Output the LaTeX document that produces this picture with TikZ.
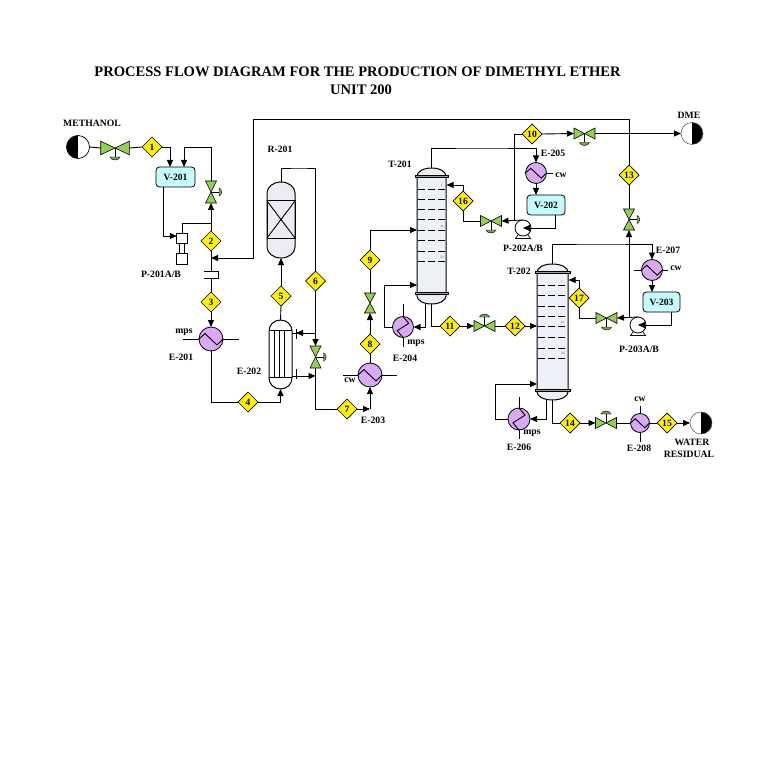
\documentclass[tikz,border=0pt]{standalone}
\usepackage{fontspec}
\setmainfont{Liberation Serif}
\usetikzlibrary{arrows.meta,shapes.geometric}
\definecolor{hxfill}{HTML}{D9A9F5}
\definecolor{valvefill}{HTML}{92D050}
\definecolor{capfill}{HTML}{6FA83C}
\definecolor{drumfill}{HTML}{C6FBFD}
\definecolor{colfill}{HTML}{EDF0F6}
\definecolor{bedfill}{HTML}{ECECF5}
\definecolor{flgfill}{HTML}{9A9A9A}
\tikzset{
 ln/.style={line width=0.9pt,draw=black,line join=miter},
 flow/.style={ln,-{Triangle[length=7pt,width=6pt]}},
 lab/.style={font=\fontsize{9.7}{10}\selectfont\bfseries,inner sep=0pt,outer sep=0pt},
 tiny/.style={font=\fontsize{3.4}{4}\selectfont,inner sep=0pt,text=black!70},
 stream/.style={diamond,aspect=1,draw=black,line width=0.7pt,fill=yellow,minimum size=20pt,inner sep=0pt,outer sep=0pt,font=\fontsize{9.6}{10}\selectfont\bfseries},
 hxn/.style={circle,draw=black,line width=0.8pt,fill=hxfill,inner sep=0pt,outer sep=0pt},
 drum/.style={rectangle,rounded corners=3.5pt,draw=black,line width=0.8pt,fill=drumfill,inner sep=0pt,outer sep=0pt,font=\fontsize{9.6}{10}\selectfont\bfseries},
 vnode/.style={rectangle,inner sep=0pt,outer sep=0pt},
 vesnode/.style={rectangle,inner sep=0pt,outer sep=0pt},
 vtri/.style={draw=black,line width=0.6pt,fill=valvefill,line join=miter},
 vcap/.style={draw=black,line width=0.4pt,fill=capfill},
 pumpn/.style={circle,draw=black,line width=0.8pt,fill=white,inner sep=0pt,outer sep=0pt,minimum size=16pt},
 pboxn/.style={rectangle,draw=black,line width=0.8pt,fill=white,inner sep=0pt,outer sep=0pt,minimum width=10.5pt,minimum height=10.5pt},
 srcl/.style={circle,draw=black,line width=0.7pt,fill=white,inner sep=0pt,outer sep=0pt,minimum size=23pt,
   path picture={\fill[black] (path picture bounding box.north) rectangle (path picture bounding box.south west);}},
 srcr/.style={circle,draw=black!70,line width=0.5pt,fill=white,inner sep=0pt,outer sep=0pt,minimum size=22pt,
   path picture={\fill[black] (path picture bounding box.north) rectangle (path picture bounding box.south east);}},
 tray/.style={line width=0.9pt,dash pattern=on 7pt off 3pt},
 flange/.style={draw=black,line width=0.4pt,fill=flgfill},
}
% horizontal valve: name x y halfwidth halfheight cap(1 down, -1 up)
\newcommand\hvalve[6]{%
 \pgfmathsetmacro\valw{2*#4}\pgfmathsetmacro\valh{2*#5}%
 \node[vnode,minimum width=\valw pt,minimum height=\valh pt] (#1) at (#2,#3) {};
 \begin{scope}[shift={(#2,#3)}]
  \draw[ln,line width=0.6pt] (0,0) -- (0,{#6*9});
  \draw[vcap] (-5,{#6*9}) .. controls (-4,{#6*13}) and (4,{#6*13}) .. (5,{#6*9}) -- cycle;
  \draw[vtri] (-#4,-#5) -- (0,0) -- (-#4,#5) -- cycle;
  \draw[vtri] (#4,-#5) -- (0,0) -- (#4,#5) -- cycle;
 \end{scope}}
% vertical valve: name x y halfwidth halfheight capflag
\newcommand\vvalve[6]{%
 \pgfmathsetmacro\valw{2*#4}\pgfmathsetmacro\valh{2*#5}%
 \node[vnode,minimum width=\valw pt,minimum height=\valh pt] (#1) at (#2,#3) {};
 \begin{scope}[shift={(#2,#3)}]
  \ifnum#6=1
  \draw[ln,line width=0.6pt] (0,0) -- (8,0);
  \draw[vcap] (8,-4) .. controls (11.5,-3) and (11.5,3) .. (8,4) -- cycle;
  \fi
  \draw[vtri] (-#4,-#5) -- (0,0) -- (#4,-#5) -- cycle;
  \draw[vtri] (-#4,#5) -- (0,0) -- (#4,#5) -- cycle;
 \end{scope}}
% heat exchanger, horizontal coil: name x y r
\newcommand\hxh[4]{%
 \pgfmathsetmacro\hxd{2*#4}%
 \node[hxn,minimum size=\hxd pt] (#1) at (#2,#3) {};
 \begin{scope}[shift={(#2,#3)}]
  \draw[ln] (-#4,0) -- ({-.5*#4},{-.45*#4}) -- ({.5*#4},{.5*#4}) -- (#4,0);
 \end{scope}}
\newcommand\hxv[4]{%
 \pgfmathsetmacro\hxd{2*#4}%
 \node[hxn,minimum size=\hxd pt] (#1) at (#2,#3) {};
 \begin{scope}[shift={(#2,#3)}]
  \draw[ln] (0,-#4) -- ({.55*#4},{-.35*#4}) -- ({-.55*#4},{.35*#4}) -- (0,#4);
 \end{scope}}
% pump: name x y
\newcommand\pumpsym[3]{%
 \node[pumpn] (#1) at (#2,#3) {};
 \begin{scope}[shift={(#2,#3)}]
  \draw[ln,line width=0.7pt] (-4.5,6.3) -- (-7.5,10.5) -- (7.5,10.5) -- (4.5,6.3);
 \end{scope}}
% vessel: name xl xr yt yb h fill
\newcommand\myvessel[7]{%
 \pgfmathsetmacro\vesw{#3-#2}\pgfmathsetmacro\vesh{#5-#4}%
 \pgfmathsetmacro\vesx{(#2+#3)/2}\pgfmathsetmacro\vesy{(#4+#5)/2}%
 \node[vesnode,minimum width=\vesw pt,minimum height=\vesh pt] (#1) at (\vesx,\vesy) {};
 \draw[ln,line width=1pt,fill=#7] (#2,{#4+#6}) .. controls (#2,{#4+.45*#6}) and ({#2+.22*\vesw},#4) .. (\vesx,#4)
   .. controls ({#3-.22*\vesw},#4) and (#3,{#4+.45*#6}) .. (#3,{#4+#6}) -- (#3,{#5-#6})
   .. controls (#3,{#5-.45*#6}) and ({#3-.22*\vesw},#5) .. (\vesx,#5)
   .. controls ({#2+.22*\vesw},#5) and (#2,{#5-.45*#6}) .. (#2,{#5-#6}) -- cycle;}
\begin{document}
\begin{tikzpicture}[x=1pt,y=-1pt]
\useasboundingbox[fill=white] (0,0) rectangle (768,762);
% ---- titles
\node[font=\fontsize{14.55}{15}\selectfont\bfseries,inner sep=0pt] (title1) at (357.5,72) {PROCESS FLOW DIAGRAM FOR THE PRODUCTION OF DIMETHYL ETHER};
\node[font=\fontsize{14.55}{15}\selectfont\bfseries,inner sep=0pt] (title2) at (361,90) {UNIT 200};
% ---- vessels
\myvessel{r201}{267}{295}{182}{258}{11}{bedfill}
\draw[ln,line width=1pt] (267,201) rectangle (295,238);
\draw[ln] (267,201) -- (295,238) (295,201) -- (267,238);
\myvessel{e202}{269}{292}{320}{389}{11}{white}
\draw[ln] (269,330) -- (292,330) (269,377) -- (292,377);
\foreach \tx in {274,279,284} \draw[ln,line width=0.7pt] (\tx,330) -- (\tx,377);
\draw[ln] (292,333) -- (296,333) (296,329) -- (296,339) (292,376) -- (296,376) (296,369) -- (296,379);
\myvessel{t201}{417}{446}{168}{304}{8}{colfill}
\draw[flange] (415,175) rectangle (448,177.5);
\draw[flange] (415,292) rectangle (448,294.5);
\foreach \ty in {189,199,209,219,230,240,251,261} \draw[tray] (418,\ty) -- (445,\ty);
\node[tiny] (tl1) at (442,185) {1};
\node[tiny] (tl2) at (442,226) {11};
\node[tiny] (tl3) at (442,257) {22};
\myvessel{t202}{537}{568}{264}{400}{8}{colfill}
\draw[flange] (535,271) rectangle (570,273.5);
\draw[flange] (535,389) rectangle (570,391.5);
\foreach \ty in {285,295,306,316,326,337,348,358} \draw[tray] (538,\ty) -- (567,\ty);
\node[tiny] (tm1) at (562,281) {1};
\node[tiny] (tm2) at (562,322) {14};
\node[tiny] (tm3) at (563,353) {26};
% ---- drums
\node[drum,minimum width=39pt,minimum height=20pt] (v201) at (175.5,177) {V-201};
\node[drum,minimum width=38pt,minimum height=20pt] (v202) at (546,205) {V-202};
\node[drum,minimum width=37pt,minimum height=20pt] (v203) at (661.5,302) {V-203};
% ---- exchangers
\hxh{e201}{211}{339}{12}
\hxh{e203}{370}{375}{12}
\hxv{e204}{403}{327}{10.5}
\hxh{e205}{536}{173}{10.5}
\hxv{e206}{519}{419}{11}
\hxh{e207}{652}{270}{10.5}
\hxh{e208}{640}{423}{9.5}
% ---- valves
\hvalve{v1}{115}{148}{14.3}{6.8}{1}
\vvalve{v2}{211}{192}{5.5}{11}{1}
\vvalve{v6}{315.5}{357}{5.5}{11}{1}
\vvalve{v8}{370}{303}{5.5}{10}{0}
\hvalve{v11}{484.5}{326}{10.5}{5.5}{-1}
\hvalve{v16}{491}{221}{10.5}{5.5}{1}
\hvalve{v10}{584.5}{133.5}{10.5}{5.5}{1}
\vvalve{v13}{629}{219.5}{5.5}{10.5}{1}
\hvalve{v17}{606.5}{318}{10.5}{5.5}{1}
\hvalve{v14}{606}{423}{10.5}{5.5}{-1}
% ---- pumps
\pumpsym{p202}{523}{228}
\pumpsym{p203}{638}{325}
\node[pboxn] (pb1) at (182,238.5) {};
\node[pboxn] (pb2) at (182,259) {};
\node[vnode,minimum width=14pt,minimum height=7pt] (cpl) at (211,274.5) {};
% ---- sources / sinks
\node[srcl] (meoh) at (78,147) {};
\node[srcr] (dme) at (692,133.5) {};
\node[srcr] (wat) at (701,423) {};
% ---- stream diamonds
\node[stream] (d1) at (152,147) {1};
\node[stream] (d2) at (211,241) {2};
\node[stream] (d3) at (211,302) {3};
\node[stream] (d4) at (248,402) {4};
\node[stream] (d5) at (281,296) {5};
\node[stream] (d6) at (315.5,281) {6};
\node[stream] (d7) at (347,409) {7};
\node[stream] (d8) at (370,344) {8};
\node[stream] (d9) at (370,260) {9};
\node[stream] (d10) at (532,134) {10};
\node[stream] (d11) at (450,326) {11};
\node[stream] (d12) at (515,326) {12};
\node[stream] (d13) at (629,175) {13};
\node[stream] (d14) at (570,423) {14};
\node[stream] (d15) at (667,423) {15};
\node[stream] (d16) at (463,201) {16};
\node[stream] (d17) at (579,298) {17};
% ---- named corners and junctions
\coordinate (c1) at (253,119.5);
\coordinate (j258) at (211,258);
\coordinate (j223) at (211,223);
\coordinate (ret) at (184,147);
\coordinate (c2) at (300,168);
\coordinate (j333) at (315.5,333);
\coordinate (j376) at (315.5,376);
\coordinate (n1) at (296,333);
\coordinate (n2) at (296,376);
\coordinate (j409) at (370,409);
\coordinate (t1feed) at (417,230);
\coordinate (t1ret) at (417,285);
\coordinate (t1rf) at (446.5,185);
\coordinate (c3) at (384,327);
\coordinate (c4) at (480,148);
\coordinate (j221) at (514,221);
\coordinate (t2feed) at (537,326);
\coordinate (t2ret) at (537,384);
\coordinate (t2rf) at (568.5,280);
\coordinate (c5) at (495,419);
\coordinate (c6) at (600,244);
\coordinate (j317) at (629,317);
\coordinate (u1a) at (183,339);
\coordinate (u1b) at (239,339);
\coordinate (u3a) at (343,375);
\coordinate (u3b) at (397,375);
\coordinate (u4a) at (403,304);
\coordinate (u4b) at (403,347);
\coordinate (u5a) at (525,173);
\coordinate (u5b) at (553,173);
\coordinate (u6a) at (519,397);
\coordinate (u6b) at (519,439);
\coordinate (u7a) at (634,270);
\coordinate (u7b) at (668,270);
\coordinate (u8a) at (640,406);
\coordinate (u8b) at (640,442);
% ---- pump block and coupling
\draw[ln] ([xshift=-2.5pt]pb1.south) -- ([xshift=-2.5pt]pb2.north);
\draw[ln] ([xshift=2.5pt]pb1.south) -- ([xshift=2.5pt]pb2.north);
\draw[ln] (cpl.north west) -- (cpl.north east) -- (cpl.south east) -- (cpl.south west);
% ---- utilities
\draw[ln] (u1a) -- (e201.west) (e201.east) -- (u1b);
\draw[ln] (u3a) -- (e203.west) (e203.east) -- (u3b);
\draw[ln] (u4a) -- (e204.north) (e204.south) -- (u4b);
\draw[ln] (u5a) -- (e205.west) (e205.east) -- (u5b);
\draw[ln] (u6a) -- (e206.north) (e206.south) -- (u6b);
\draw[ln] (u7a) -- (e207.west) (e207.east) -- (u7b);
\draw[ln] (u8a) -- (e208.north) (e208.south) -- (u8b);
% ---- connectors
\draw[ln] (meoh.east) -- (v1.west);
\draw[ln] (v1.east) -- (d1.west);
\draw[flow] (d1.east) -| ([xshift=-5.5pt]v201.north);
\draw[flow] (v2.north) |- (ret) -- ([xshift=8.5pt]v201.north);
\draw[flow] (d2.north) -- (v2.south);
\draw[ln] (j223) -| (pb1.north);
\draw[flow] ([xshift=-12.5pt]v201.south) |- ([yshift=2.5pt]pb1.west);
\draw[ln] (d2.south) -- (cpl.north);
\draw[ln] (cpl.south) -- (d3.north);
\draw[flow] (d13.north) |- (c1) |- (j258);
\draw[flow] (d3.south) -- (e201.north);
\draw[ln] (e201.south) |- (d4.west);
\draw[flow] (d4.east) -| (e202.south);
\draw[ln] (e202.north) -- (d5.south);
\draw[flow] (d5.north) -- (r201.south);
\draw[ln] (r201.north) |- (c2) -| (d6.north);
\draw[flow] (d6.south) -- (v6.north);
\draw[flow] (j333) -- (n1);
\draw[flow] (n2) -- (j376);
\draw[ln] (v6.south) |- (d7.west);
\draw[flow] (d7.east) -- (j409);
\draw[flow] (j409) -- (e203.south);
\draw[ln] (e203.north) -- (d8.south);
\draw[flow] (d8.north) -- (v8.south);
\draw[ln] (v8.north) -- (d9.south);
\draw[flow] (d9.north) |- (t1feed);
\draw[flow] ([xshift=-6.5pt]t201.south) |- (e204.east);
\draw[flow] (e204.west) -- (c3) |- (t1ret);
\draw[ln] (t201.south) |- (d11.west);
\draw[flow] (d11.east) -- (v11.west);
\draw[ln] (v11.east) -- (d12.west);
\draw[flow] (d12.east) -- (t2feed);
\draw[flow] (t201.north) |- (c4) -| (e205.north);
\draw[flow] (e205.south) -- ([xshift=-10pt]v202.north);
\draw[flow] ([xshift=9pt]v202.south) |- (p202.center);
\draw[flow] (p202.north) -- (v16.east);
\draw[ln] (v16.west) -| (d16.south);
\draw[flow] (d16.north) |- (t1rf);
\draw[ln] (j221) |- (d10.west);
\draw[flow] (d10.east) -- (v10.west);
\draw[flow] (v10.east) -- (dme.west);
\draw[flow] (t202.north) |- (c6) -| (e207.north);
\draw[flow] (e207.south) -- ([xshift=-9.5pt]v203.north);
\draw[flow] ([xshift=9.5pt]v203.south) |- (p203.center);
\draw[flow] (p203.north) -- (v17.east);
\draw[ln] (v17.west) -| (d17.south);
\draw[flow] (d17.north) |- (t2rf);
\draw[flow] (j317) -- (v13.south);
\draw[ln] (v13.north) -- (d13.south);
\draw[flow] ([xshift=-6.5pt]t202.south) |- (e206.east);
\draw[flow] (e206.west) -- (c5) |- (t2ret);
\draw[ln] (t202.south) |- (d14.west);
\draw[flow] (d14.east) -- (v14.west);
\draw[ln] (v14.east) -- (e208.west);
\draw[ln] (e208.east) -- (d15.west);
\draw[flow] (d15.east) -- (wat.west);
% ---- labels
\node[lab] (lmeoh) at (92,123) {METHANOL};
\node[lab] (ldme) at (689,115) {DME};
\node[lab] (lp201) at (161,274) {P-201A/B};
\node[lab] (lr201) at (280,149) {R-201};
\node[lab] (lt201) at (400,164) {T-201};
\node[lab] (lt202) at (519,271) {T-202};
\node[lab] (le201) at (181,357) {E-201};
\node[lab] (le202) at (249,371) {E-202};
\node[lab] (le203) at (373,420) {E-203};
\node[lab] (le204) at (405,358) {E-204};
\node[lab] (le205) at (553,153) {E-205};
\node[lab] (le206) at (519,447) {E-206};
\node[lab] (le207) at (668,250) {E-207};
\node[lab] (le208) at (639,448) {E-208};
\node[lab] (lp202) at (523,248) {P-202A/B};
\node[lab] (lp203) at (639,349) {P-203A/B};
\node[lab] (lm1) at (184,332) {mps};
\node[lab] (lm2) at (416,343) {mps};
\node[lab] (lm3) at (532,433) {mps};
\node[lab] (lc1) at (350,380) {cw};
\node[lab] (lc2) at (561,175) {cw};
\node[lab] (lc3) at (676,268) {cw};
\node[lab] (lc4) at (640,399) {cw};
\node[lab] (lw1) at (692,442) {WATER};
\node[lab] (lw2) at (689,454) {RESIDUAL};
\end{tikzpicture}
\end{document}
